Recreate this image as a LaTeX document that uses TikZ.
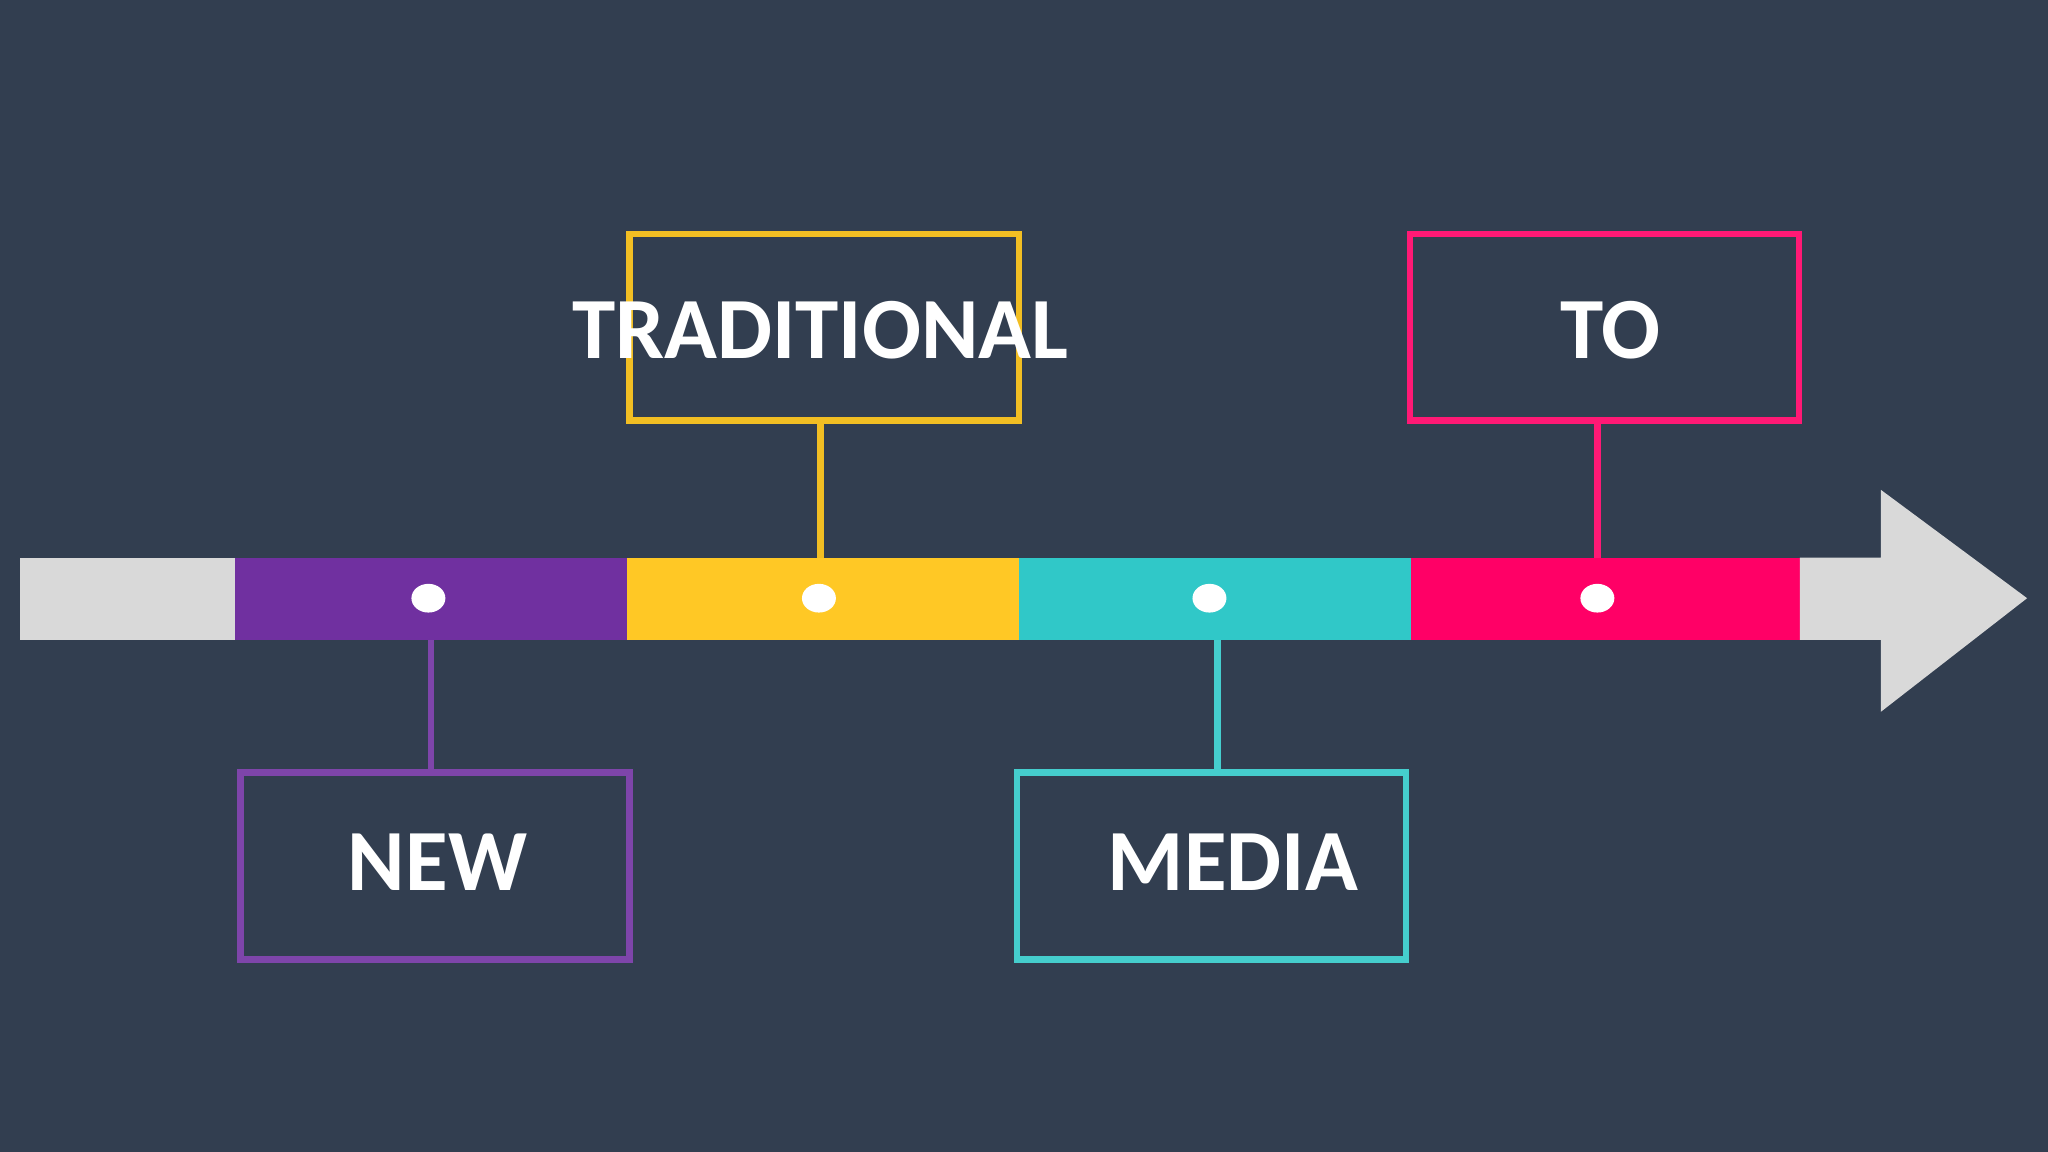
\documentclass[tikz,border=0pt]{standalone}
\usepackage{fontspec}
\setmainfont{Carlito}
\definecolor{bg}{HTML}{323E50}
\definecolor{cpur}{HTML}{7030A0}
\definecolor{cyel}{HTML}{FFC825}
\definecolor{ctea}{HTML}{30C8C8}
\definecolor{cpin}{HTML}{FF0066}
\definecolor{cgry}{HTML}{D9D9D9}
\begin{document}
\begin{tikzpicture}[x=0.01cm,y=-0.01cm,
  lbl/.style={draw, line width=5*0.01cm, minimum width=298*0.01cm, minimum height=143*0.01cm, text=white, font=\bfseries\fontsize{19}{19}\selectfont, inner sep=0},
  conn/.style={line width=5*0.01cm},
  dot/.style={fill=white, draw=none, ellipse, minimum width=26*0.01cm, minimum height=22*0.01cm, inner sep=0}]
\fill[bg] (0,0) rectangle (1568,882);
\useasboundingbox (0,0) rectangle (1568,882);
\fill[cgry] (15,427) rectangle (180,490);
\fill[cpur] (180,427) rectangle (480,490);
\fill[cyel] (480,427) rectangle (780,490);
\fill[ctea] (780,427) rectangle (1080,490);
\fill[cpin] (1080,427) rectangle (1378,490);
\fill[cgry] (1378,427) -- (1440,427) -- (1440,375) -- (1552,458) -- (1440,545) -- (1440,490) -- (1378,490) -- cycle;
\foreach \n/\x in {d1/328,d2/627,d3/926,d4/1223}
  \fill[white] (\x,458) ellipse [x radius=13, y radius=11];
\coordinate (c1) at (330,490);
\coordinate (c2) at (628,427);
\coordinate (c3) at (932,490);
\coordinate (c4) at (1223,427);
\node[lbl, draw=cyel!95!black] (trad) at (631,250.5) {};
\node[text=white, font=\bfseries\fontsize{19}{19}\selectfont] (tradt) at (628,253) {TRADITIONAL};
\node[lbl, draw=cpin!90!white] (to) at (1228.5,250.5) {};
\node[text=white, font=\bfseries\fontsize{19}{19}\selectfont] (tot) at (1233,253) {TO};
\node[lbl, draw=cpur!90!white] (new) at (333,663) {};
\node[text=white, font=\bfseries\fontsize{19}{19}\selectfont] (newt) at (335,660) {NEW};
\node[lbl, draw=ctea!90!white] (media) at (927.5,663) {};
\node[text=white, font=\bfseries\fontsize{19}{19}\selectfont] (mediat) at (944,660) {MEDIA};
\draw[conn, cyel!95!black] (c2) -- (c2 |- trad.south);
\draw[conn, cpin!90!white] (c4) -- (c4 |- to.south);
\draw[conn, cpur!90!white] (c1) -- (c1 |- new.north);
\draw[conn, ctea!90!white] (c3) -- (c3 |- media.north);
\end{tikzpicture}
\end{document}
